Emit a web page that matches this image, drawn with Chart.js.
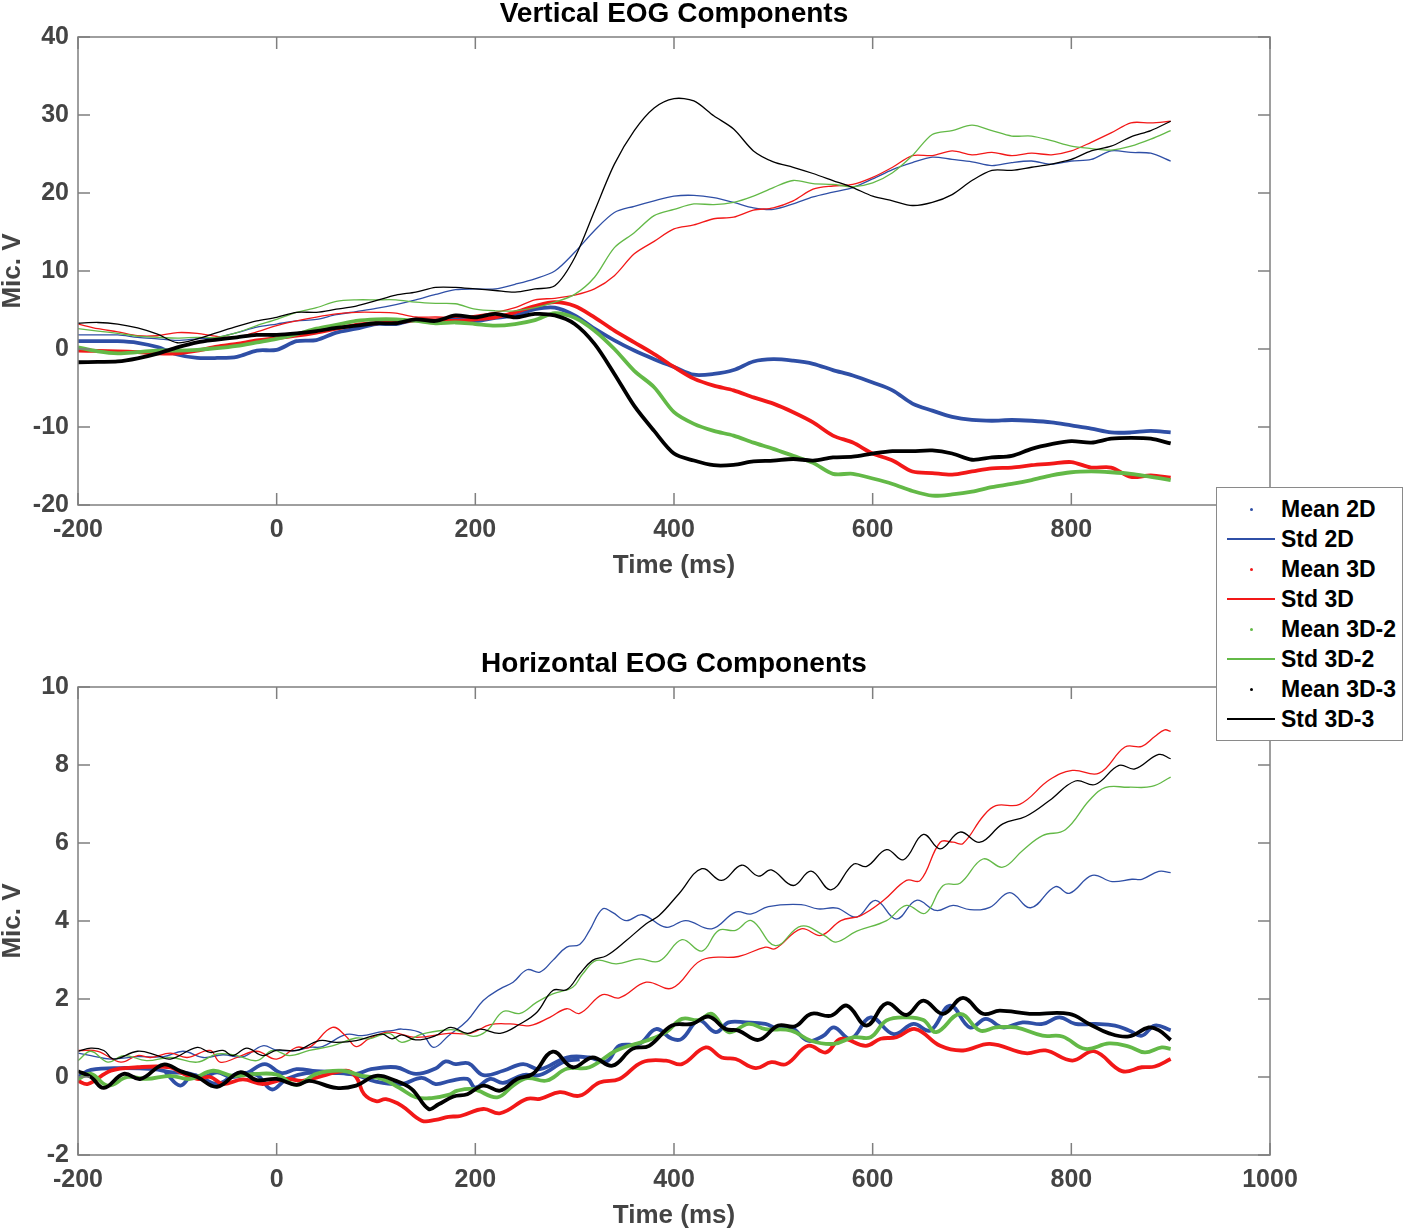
<!DOCTYPE html>
<html>
<head>
<meta charset="utf-8">
<script src="https://cdn.jsdelivr.net/npm/chart.js@4"></script>
<style>
  body { margin: 0; background: #fff; }
  #wrap { position: relative; width: 1404px; height: 1231px; font-family: "Liberation Sans", Arial, sans-serif; }
  .box { position: absolute; left: 0; width: 1404px; }
  #legend { position: absolute; left: 1216px; top: 487px; width: 185px; height: 246px; border: 1px solid #8a8a8a; background: #fff; padding-top: 6px; box-sizing: content-box; }
  .row { height: 30px; display: flex; align-items: center; }
  .swatch { width: 48px; margin-left: 10px; margin-right: 6px; display: flex; justify-content: center; align-items: center; }
  .lbl { font-weight: bold; font-size: 23px; color: #000; }
</style>
</head>
<body>
<div id="wrap">
  <div class="box" style="top:0;height:615px"><canvas id="vChart"></canvas></div>
  <div class="box" style="top:615px;height:616px"><canvas id="hChart"></canvas></div>
  <div id="legend"></div>
</div>
<script>
// Vertical EOG: values every 20 ms from -200 to 900
const tTop = [];
for (let t = -200; t <= 900; t += 20) tTop.push(t);

const vMean2D = [1.0,1.0,1.0,0.8,0.25,-0.7,-1.15,-1.15,-1.0,-0.2,-0.1,1.0,1.15,2.1,2.6,3.2,3.2,3.75,3.6,4.05,3.6,4.0,4.3,5.1,5.3,4.3,2.6,1.1,-0.2,-1.3,-2.3,-3.3,-3.2,-2.7,-1.6,-1.3,-1.5,-1.9,-2.7,-3.4,-4.3,-5.3,-7.0,-7.9,-8.7,-9.1,-9.2,-9.1,-9.2,-9.4,-9.8,-10.2,-10.7,-10.7,-10.5,-10.7];
const vStd2D = [1.8,1.8,1.8,1.5,1.3,1.1,1.3,1.5,2.1,2.8,3.2,3.6,3.8,4.4,4.8,5.2,5.7,6.3,7.0,7.6,7.7,7.7,8.3,9.0,10.0,12.4,15.2,17.5,18.3,19.0,19.6,19.7,19.4,18.8,18.1,17.9,18.6,19.5,20.1,20.7,21.8,23.0,23.9,24.6,24.3,24.0,23.5,23.9,24.1,23.7,24.1,24.3,25.4,25.2,25.1,24.1];
const vMean3D = [-0.2,-0.25,-0.3,-0.4,-0.55,-0.55,-0.2,0.3,0.65,1.1,1.4,1.7,2.1,2.6,3.1,3.3,3.4,3.7,3.7,3.6,3.8,4.05,4.7,5.5,6.0,5.5,4.05,2.35,0.85,-0.65,-2.3,-3.8,-4.7,-5.3,-6.2,-7.0,-8.1,-9.4,-11.1,-12.0,-13.4,-14.3,-15.7,-15.9,-16.1,-15.7,-15.3,-15.2,-14.9,-14.7,-14.5,-15.2,-15.2,-16.4,-16.2,-16.5];
const vStd3D = [3.2,2.6,2.2,1.7,1.7,2.1,2.0,1.6,1.5,2.2,3.0,3.6,4.1,4.5,4.7,4.7,4.6,4.1,4.1,4.05,4.3,4.7,5.3,6.3,6.5,6.9,7.7,9.4,12.2,13.8,15.4,15.9,16.7,16.9,17.8,18.1,19.0,20.5,20.9,21.1,22.0,23.3,24.8,24.8,25.4,24.9,25.2,24.8,25.1,24.9,25.4,26.5,27.7,29.0,29.0,29.2];
const vMean3D2 = [0.2,-0.3,-0.55,-0.4,-0.2,-0.2,-0.1,0.1,0.4,0.85,1.3,1.9,2.6,3.1,3.6,3.8,3.8,3.6,3.3,3.4,3.2,3.0,3.2,3.7,4.6,4.0,2.35,0.0,-2.8,-4.9,-8.1,-9.6,-10.5,-11.1,-12.0,-12.8,-13.7,-14.6,-16.0,-16.0,-16.6,-17.3,-18.2,-18.8,-18.65,-18.3,-17.7,-17.3,-16.8,-16.2,-15.8,-15.7,-15.8,-16.0,-16.4,-16.8];
const vStd3D2 = [2.6,2.3,2.0,1.65,1.5,1.4,1.5,1.5,2.1,3.0,3.8,4.7,5.3,6.1,6.3,6.3,6.3,6.0,5.85,5.8,5.1,4.9,4.9,5.3,6.0,7.0,9.2,13.0,14.9,17.1,17.9,18.6,18.5,18.8,19.6,20.7,21.6,21.2,21.1,20.8,21.3,22.6,24.8,27.5,28.0,28.7,28.0,27.3,27.3,26.7,26.0,25.7,25.5,26.0,26.9,28.0];
const vMean3D3 = [-1.7,-1.65,-1.6,-1.2,-0.6,0.2,0.85,1.2,1.5,1.8,1.8,2.0,2.3,2.7,3.0,3.3,3.3,3.8,3.6,4.3,4.05,4.5,4.05,4.5,4.3,3.2,0.65,-3.2,-7.3,-10.5,-13.4,-14.3,-14.9,-14.85,-14.4,-14.3,-14.1,-14.3,-13.9,-13.8,-13.4,-13.1,-13.1,-13.0,-13.4,-14.2,-13.9,-13.7,-12.8,-12.2,-11.8,-12.0,-11.5,-11.4,-11.5,-12.1];
const vStd3D3 = [3.3,3.4,3.2,2.7,1.9,0.8,1.3,2.1,2.9,3.6,4.05,4.7,4.7,5.1,5.5,6.2,6.9,7.3,7.9,7.9,7.7,7.5,7.3,7.7,8.1,11.7,17.7,23.7,28.0,30.9,32.1,31.8,29.9,28.2,25.4,24.0,23.3,22.5,21.6,20.7,19.6,19.0,18.4,18.8,19.8,21.6,22.9,22.9,23.3,23.7,24.3,25.4,26.0,27.2,28.0,29.2];

// Horizontal EOG: [time, value] pairs read at peaks and troughs
const hMean2D = [[-200,0.0],[-187,0.18],[-157,0.23],[-124,0.2],[-105,0.12],[-90,0.1],[-74,0.0],[-60,0.12],[-46,0.0],[-30,0.1],[-12,0.33],[5,0.1],[20,0.2],[40,0.15],[60,0.13],[80,0.08],[95,0.2],[120,0.25],[140,0.08],[160,0.22],[170,0.4],[180,0.33],[193,0.35],[208,0.05],[228,0.16],[248,0.33],[265,0.2],[292,0.5],[315,0.5],[332,0.4],[345,0.8],[365,0.85],[382,1.23],[398,0.98],[408,0.98],[425,1.45],[442,1.15],[455,1.4],[472,1.4],[492,1.36],[505,1.23],[518,1.27],[535,0.93],[550,1.05],[561,1.27],[578,0.98],[598,1.53],[621,1.1],[641,1.36],[658,1.19],[678,1.83],[698,1.27],[714,1.49],[731,1.27],[751,1.4],[771,1.36],[788,1.53],[804,1.36],[824,1.36],[844,1.32],[858,1.19],[871,1.06],[884,1.32],[900,1.2]];
const hMean2Db = [[-112,0.12],[-97,-0.22],[-84,0.05],[-60,-0.18],[-40,0.08],[-20,0.05],[-5,-0.32],[10,-0.05],[30,0.1],[60,0.1],[80,0.05],[100,-0.12],[126,-0.18],[146,-0.02],[160,-0.18],[175,-0.1],[192,-0.05],[200,-0.27],[215,-0.05],[228,-0.15],[248,0.05],[265,0.05],[290,0.4],[305,0.45]];
const hStd2D = [[-200,0.61],[-187,0.55],[-167,0.46],[-140,0.52],[-114,0.52],[-94,0.66],[-74,0.5],[-54,0.57],[-34,0.52],[-14,0.8],[0,0.69],[20,0.68],[33,0.76],[46,0.78],[70,1.09],[86,1.06],[103,1.15],[116,1.19],[126,1.23],[146,1.12],[158,0.76],[173,1.06],[192,1.45],[208,1.96],[225,2.26],[238,2.43],[252,2.75],[265,2.69],[278,2.99],[292,3.33],[305,3.4],[315,3.76],[328,4.31],[338,4.22],[352,4.01],[368,4.16],[392,3.84],[412,4.01],[438,3.8],[462,4.23],[478,4.18],[495,4.37],[528,4.42],[545,4.31],[564,4.33],[584,4.1],[603,4.53],[624,4.05],[644,4.53],[664,4.27],[681,4.4],[698,4.29],[718,4.35],[738,4.73],[759,4.34],[784,4.88],[798,4.71],[821,5.17],[841,5.01],[861,5.07],[871,5.07],[888,5.27],[900,5.24]];
const hMean3D = [[-200,-0.1],[-190,-0.18],[-167,0.16],[-140,0.25],[-107,0.25],[-97,0.12],[-80,-0.05],[-67,0.0],[-54,-0.18],[-34,-0.06],[-14,-0.18],[10,-0.05],[26,-0.1],[46,0.03],[70,0.16],[80,0.0],[88,-0.44],[100,-0.62],[110,-0.57],[126,-0.74],[146,-1.12],[160,-1.1],[173,-1.02],[185,-1.0],[208,-0.82],[225,-0.93],[252,-0.56],[265,-0.56],[285,-0.39],[305,-0.48],[325,-0.14],[345,-0.05],[368,0.38],[392,0.42],[408,0.33],[432,0.76],[448,0.5],[462,0.46],[482,0.23],[498,0.38],[513,0.33],[535,0.8],[553,0.63],[568,0.98],[593,0.8],[608,0.98],[624,1.02],[643,1.23],[668,0.8],[691,0.68],[718,0.85],[754,0.61],[774,0.68],[801,0.42],[823,0.66],[851,0.15],[871,0.25],[884,0.27],[900,0.46]];
const hStd3D = [[-200,0.68],[-180,0.66],[-157,0.38],[-140,0.55],[-127,0.5],[-107,0.61],[-90,0.5],[-67,0.68],[-57,0.38],[-40,0.5],[-20,0.66],[0,0.46],[20,0.76],[33,0.76],[56,1.27],[70,1.04],[80,0.78],[93,0.98],[113,1.15],[140,1.02],[173,1.12],[195,1.12],[215,1.34],[235,1.36],[255,1.32],[275,1.53],[292,1.75],[305,1.63],[328,2.11],[345,2.03],[372,2.43],[398,2.28],[428,3.0],[465,3.09],[492,3.33],[502,3.29],[528,3.8],[548,3.63],[568,4.01],[588,4.14],[611,4.53],[634,5.04],[648,5.04],[668,6.02],[681,6.02],[691,5.99],[711,6.68],[724,6.96],[748,6.99],[778,7.62],[801,7.86],[828,7.79],[854,8.46],[871,8.48],[884,8.73],[894,8.9],[900,8.86]];
const hMean3D2 = [[-200,-0.05],[-187,0.08],[-170,-0.22],[-150,0.0],[-131,-0.05],[-107,0.03],[-87,-0.05],[-64,0.16],[-44,0.03],[-20,0.08],[0,0.06],[20,-0.2],[40,0.08],[66,0.16],[86,0.03],[106,-0.05],[123,-0.27],[140,-0.52],[156,-0.54],[173,-0.46],[182,-0.35],[198,-0.31],[222,-0.52],[238,-0.22],[252,-0.03],[272,-0.09],[292,0.21],[315,0.25],[342,0.68],[372,0.93],[392,1.15],[408,1.49],[425,1.46],[438,1.62],[455,1.15],[475,1.36],[492,1.23],[518,1.19],[538,0.93],[561,0.85],[581,1.02],[598,1.02],[614,1.45],[634,1.53],[651,1.46],[664,1.15],[688,1.62],[708,1.19],[724,1.27],[744,1.27],[771,1.06],[791,1.04],[814,0.72],[838,0.86],[858,0.78],[874,0.63],[891,0.76],[900,0.72]];
const hStd3D2 = [[-200,0.42],[-187,0.66],[-170,0.38],[-154,0.55],[-131,0.42],[-107,0.5],[-80,0.38],[-60,0.59],[-40,0.55],[-20,0.42],[-4,0.68],[13,0.55],[33,0.68],[56,0.8],[80,1.0],[93,0.98],[113,1.12],[126,0.89],[146,1.1],[173,1.21],[182,1.19],[198,1.04],[212,1.19],[228,1.68],[245,1.63],[262,1.92],[278,2.13],[298,2.3],[308,2.64],[322,2.99],[342,2.9],[365,3.03],[385,2.97],[408,3.52],[428,3.23],[445,3.76],[462,3.76],[478,4.01],[502,3.37],[528,3.87],[551,3.63],[563,3.46],[584,3.74],[614,4.01],[634,4.4],[653,4.2],[671,4.91],[688,4.97],[711,5.59],[731,5.38],[751,5.81],[771,6.19],[794,6.34],[818,7.09],[834,7.42],[858,7.43],[881,7.45],[900,7.69]];
const hMean3D3 = [[-200,0.15],[-187,0.0],[-174,-0.28],[-154,0.08],[-137,-0.05],[-114,0.32],[-97,0.15],[-80,0.0],[-60,-0.25],[-37,0.12],[-20,-0.08],[0,-0.05],[20,-0.2],[33,-0.1],[60,-0.28],[80,-0.22],[100,0.03],[120,-0.1],[136,-0.31],[153,-0.82],[163,-0.7],[178,-0.5],[192,-0.44],[208,-0.22],[225,-0.35],[242,-0.05],[258,0.08],[278,0.65],[298,0.25],[318,0.5],[338,0.29],[358,0.72],[375,0.8],[398,1.32],[418,1.36],[435,1.55],[452,1.23],[465,1.19],[485,0.95],[505,1.32],[522,1.3],[538,1.62],[558,1.57],[574,1.83],[594,1.32],[614,1.89],[634,1.59],[651,1.96],[671,1.62],[691,2.03],[711,1.62],[728,1.7],[758,1.62],[798,1.62],[818,1.36],[838,1.12],[858,1.04],[878,1.27],[888,1.2],[900,0.95]];
const hStd3D3 = [[-200,0.66],[-187,0.74],[-174,0.68],[-164,0.46],[-140,0.66],[-120,0.55],[-107,0.46],[-80,0.76],[-67,0.63],[-54,0.68],[-44,0.55],[-30,0.74],[-14,0.55],[0,0.69],[20,0.68],[43,0.93],[60,0.89],[80,0.93],[106,1.1],[116,0.98],[126,1.08],[140,0.95],[160,1.06],[175,1.27],[192,1.12],[205,1.23],[225,1.12],[245,1.36],[262,1.66],[278,2.22],[292,2.24],[305,2.64],[318,2.99],[332,3.11],[352,3.5],[372,3.93],[385,4.14],[405,4.7],[428,5.34],[448,5.04],[468,5.43],[485,5.15],[498,5.31],[520,4.91],[538,5.28],[558,4.8],[581,5.46],[594,5.4],[614,5.83],[631,5.57],[651,6.22],[668,5.85],[688,6.28],[708,6.02],[731,6.49],[754,6.68],[778,7.09],[804,7.59],[824,7.5],[848,7.99],[864,7.9],[888,8.27],[900,8.16]];

const seriesNames = ['Mean 2D','Std 2D','Mean 3D','Std 3D','Mean 3D-2','Std 3D-2','Mean 3D-3','Std 3D-3'];
const colors = { blue: '#2f4fa6', red: '#f21818', green: '#63b947', black: '#000000' };
const FONT = '"Liberation Sans", Arial, sans-serif';

function ds(label, color, data, thick, tension) {
    return {
        label: label,
        data: data,
        borderColor: color,
        borderWidth: thick ? 3.8 : 1.3,
        pointRadius: 0,
        tension: tension,
        fill: false
    };
}

const topData = vals => tTop.map((t, i) => ({ x: t, y: vals[i] }));
const pairData = pairs => pairs.map(p => ({ x: p[0], y: p[1] }));

// MATLAB-style box with inward ticks on all four sides
const frameTicks = {
    id: 'frameTicks',
    afterDraw(chart) {
        const { ctx, chartArea: a, scales: { x, y } } = chart;
        ctx.save();
        ctx.strokeStyle = '#7f7f7f';
        ctx.lineWidth = 1.5;
        ctx.strokeRect(a.left, a.top, a.right - a.left, a.bottom - a.top);
        ctx.beginPath();
        x.ticks.forEach(t => {
            const px = x.getPixelForValue(t.value);
            ctx.moveTo(px, a.bottom); ctx.lineTo(px, a.bottom - 12);
            ctx.moveTo(px, a.top); ctx.lineTo(px, a.top + 12);
        });
        y.ticks.forEach(t => {
            const py = y.getPixelForValue(t.value);
            ctx.moveTo(a.left, py); ctx.lineTo(a.left + 12, py);
            ctx.moveTo(a.right, py); ctx.lineTo(a.right - 12, py);
        });
        ctx.stroke();
        ctx.restore();
    }
};

function makeChart(id, title, datasets, yMin, yMax, yStep, xHeight, topPad, xTitlePad) {
    // later datasets drawn on top, as in the original plot order
    datasets.forEach((d, i) => { d.order = -i; });
    return new Chart(document.getElementById(id), {
        type: 'line',
        data: { datasets: datasets },
        plugins: [frameTicks],
        options: {
            responsive: true,
            maintainAspectRatio: false,
            animation: false,
            layout: { padding: { left: 0, right: 134, top: topPad, bottom: 0 } },
            plugins: {
                legend: { display: false },
                tooltip: { enabled: false },
                title: {
                    display: true, text: title, fullSize: false, color: '#000',
                    font: { family: FONT, size: 28, weight: 'bold', lineHeight: 1 },
                    padding: { top: 0, bottom: 9 }
                }
            },
            scales: {
                x: {
                    type: 'linear', min: -200, max: 1000,
                    grid: { display: false, drawTicks: false },
                    border: { display: false },
                    ticks: { stepSize: 200, autoSkip: false, maxRotation: 0, padding: 10, color: '#444',
                             callback: v => String(v),
                             font: { family: FONT, size: 25, weight: 'bold' } },
                    title: { display: true, text: 'Time (ms)', color: '#444', padding: { top: 0, bottom: xTitlePad },
                             font: { family: FONT, size: 26, weight: 'bold' } },
                    afterFit: s => { s.height = xHeight; }
                },
                y: {
                    type: 'linear', min: yMin, max: yMax,
                    grid: { display: false, drawTicks: false },
                    border: { display: false },
                    ticks: { stepSize: yStep, autoSkip: false, padding: 9, color: '#444',
                             callback: v => String(v),
                             font: { family: FONT, size: 25, weight: 'bold' } },
                    title: { display: true, text: 'Mic. V', color: '#444', padding: { top: 0, bottom: 0 },
                             font: { family: FONT, size: 26, weight: 'bold', lineHeight: 1 } },
                    afterFit: s => { s.width = 78; }
                }
            }
        }
    });
}

makeChart('vChart', 'Vertical EOG Components', [
    ds('Mean 2D', colors.blue, topData(vMean2D), true, 0.3),
    ds('Std 2D', colors.blue, topData(vStd2D), false, 0.3),
    ds('Mean 3D', colors.red, topData(vMean3D), true, 0.3),
    ds('Std 3D', colors.red, topData(vStd3D), false, 0.3),
    ds('Mean 3D-2', colors.green, topData(vMean3D2), true, 0.3),
    ds('Std 3D-2', colors.green, topData(vStd3D2), false, 0.3),
    ds('Mean 3D-3', colors.black, topData(vMean3D3), true, 0.3),
    ds('Std 3D-3', colors.black, topData(vStd3D3), false, 0.3)
], -20, 40, 10, 110, 0, 34);

makeChart('hChart', 'Horizontal EOG Components', [
    ds('Mean 2D', colors.blue, pairData(hMean2D), true, 0.4),
    ds('Mean 2D', colors.blue, pairData(hMean2Db), true, 0.4),
    ds('Std 2D', colors.blue, pairData(hStd2D), false, 0.4),
    ds('Mean 3D', colors.red, pairData(hMean3D), true, 0.4),
    ds('Std 3D', colors.red, pairData(hStd3D), false, 0.4),
    ds('Mean 3D-2', colors.green, pairData(hMean3D2), true, 0.4),
    ds('Std 3D-2', colors.green, pairData(hStd3D2), false, 0.4),
    ds('Mean 3D-3', colors.black, pairData(hMean3D3), true, 0.4),
    ds('Std 3D-3', colors.black, pairData(hStd3D3), false, 0.4)
], -2, 10, 2, 76, 35, 0);

// shared legend box between the two axes
const legendColors = [colors.blue, colors.blue, colors.red, colors.red, colors.green, colors.green, colors.black, colors.black];
const legend = document.getElementById('legend');
seriesNames.forEach((name, i) => {
    const isMean = name.startsWith('Mean');
    const mark = isMean
        ? `<span style="width:3px;height:3px;border-radius:50%;background:${legendColors[i]}"></span>`
        : `<span style="width:48px;height:1.3px;background:${legendColors[i]}"></span>`;
    legend.insertAdjacentHTML('beforeend',
        `<div class="row"><span class="swatch">${mark}</span><span class="lbl">${name}</span></div>`);
});
</script>
</body>
</html>
